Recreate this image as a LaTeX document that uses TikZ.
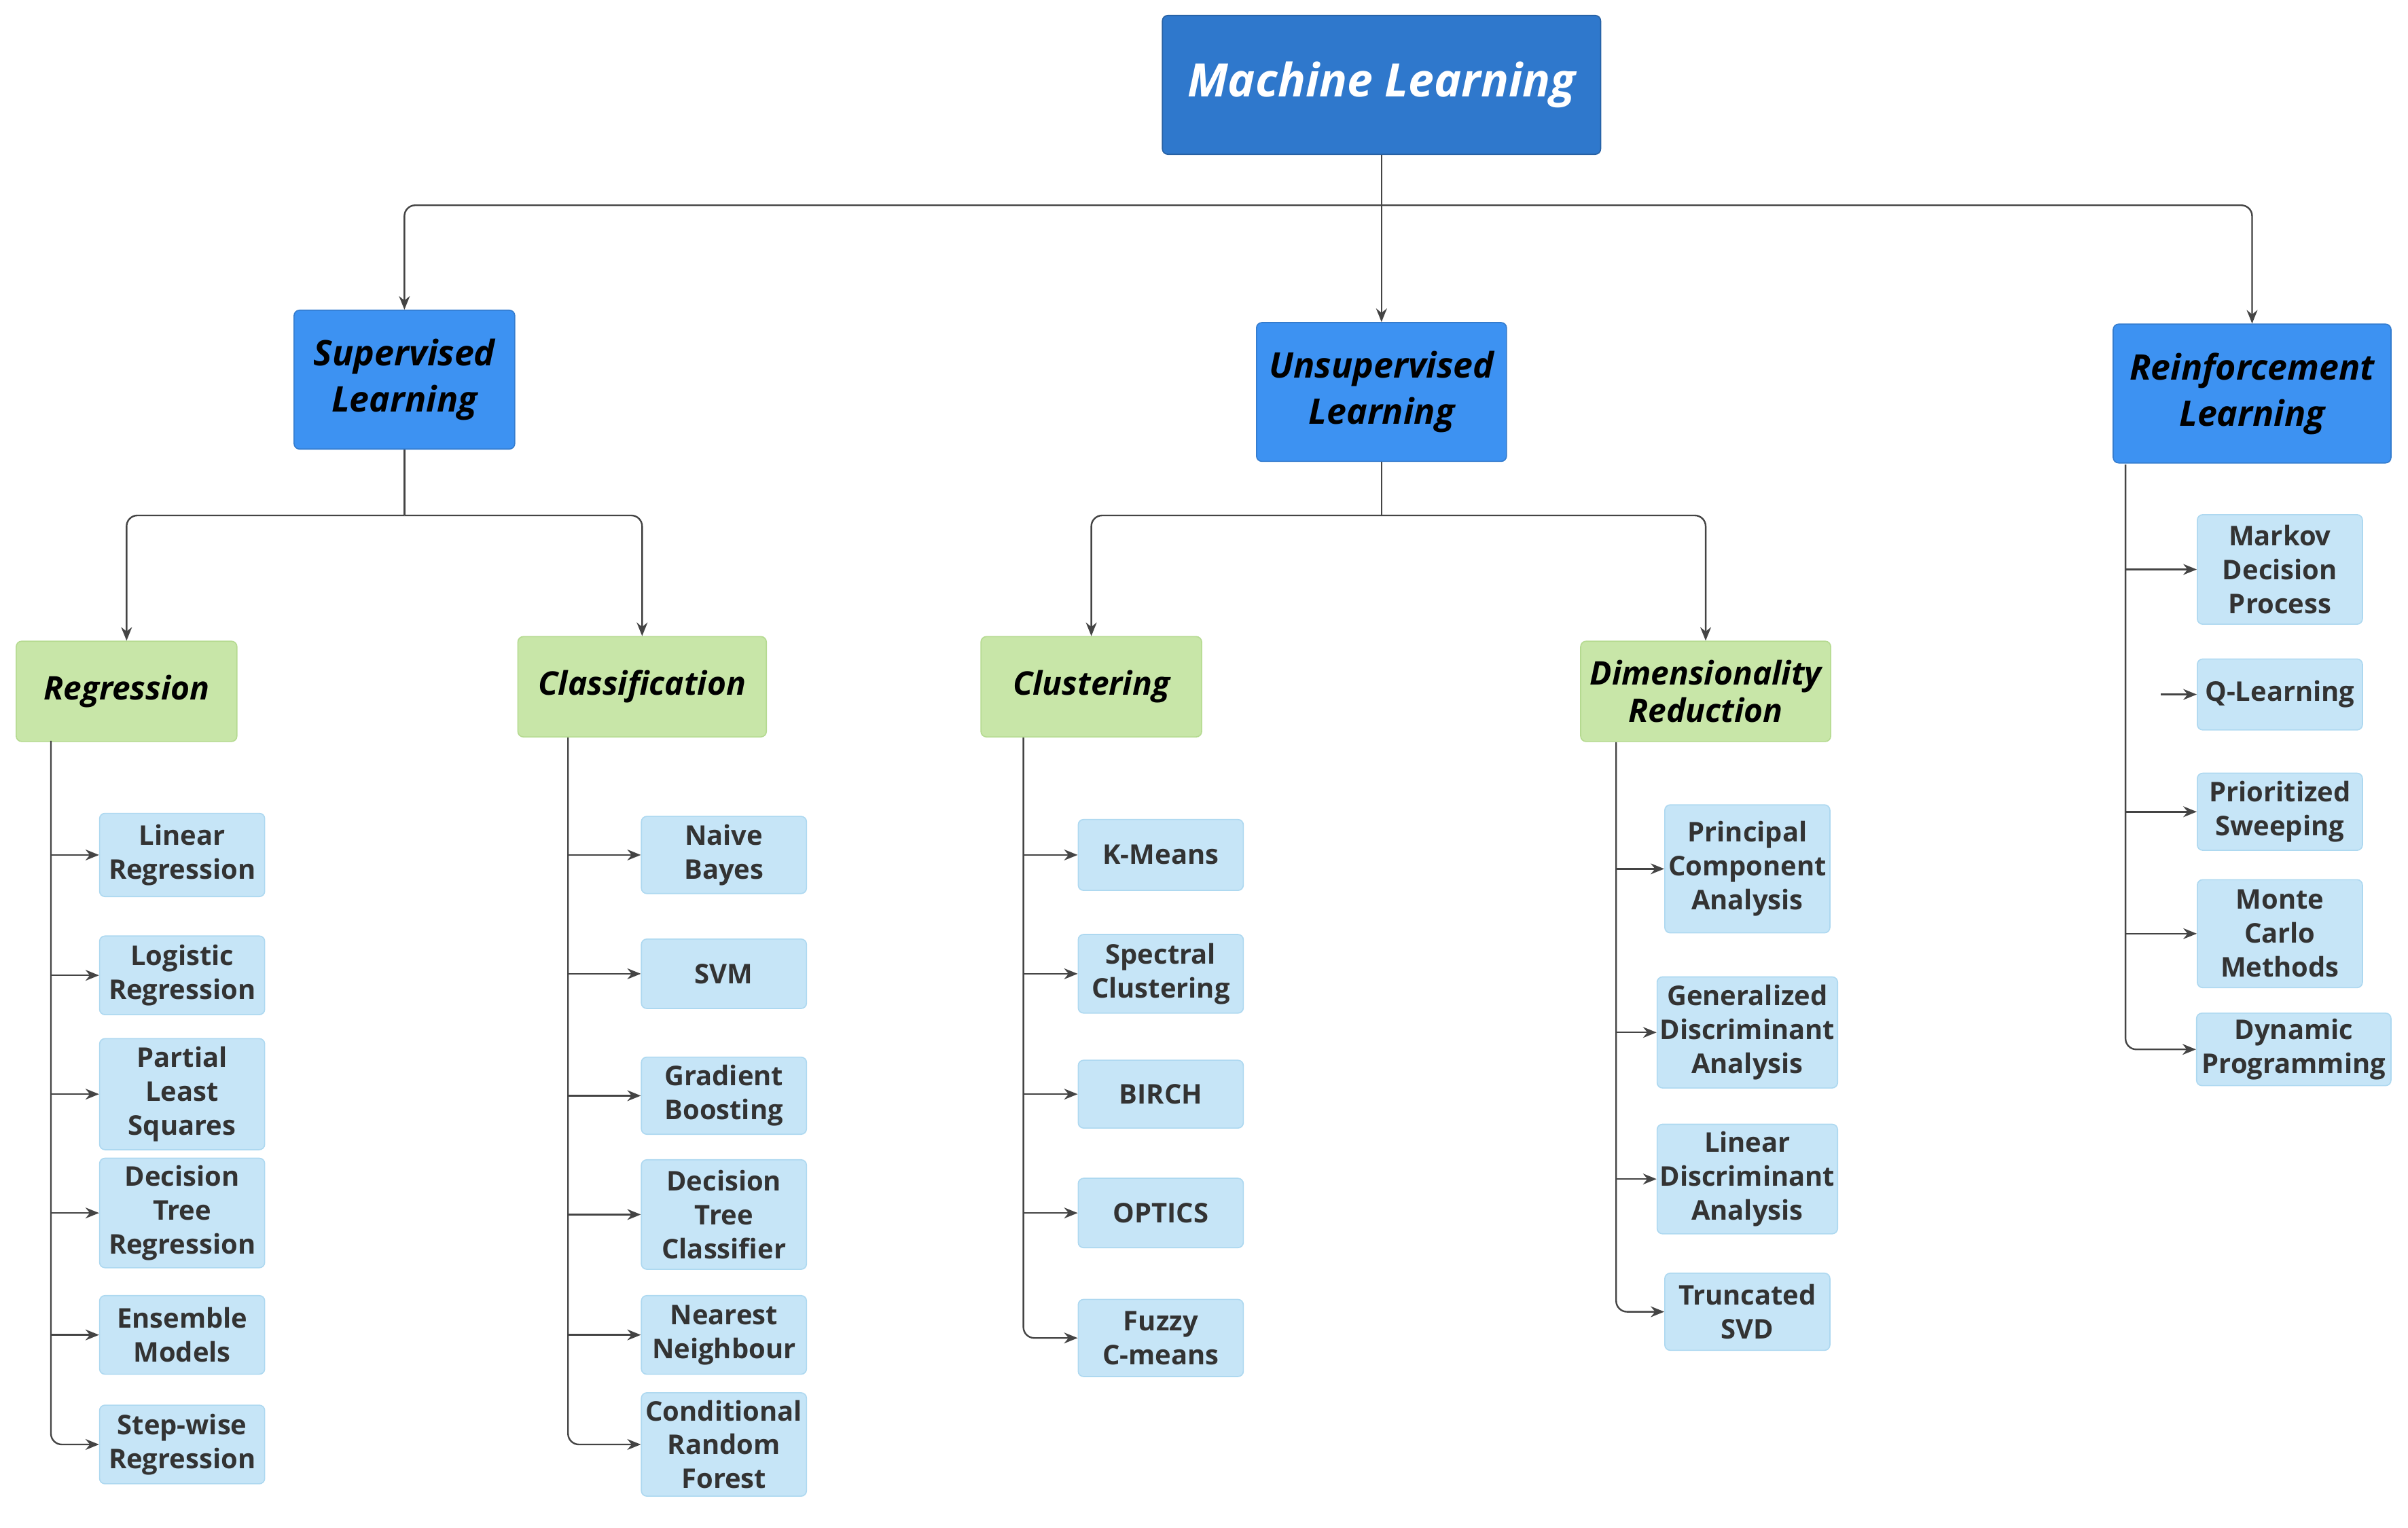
\documentclass[tikz,border=0pt]{standalone}
\usepackage{fontspec}
\setmainfont{Open Sans}
\usetikzlibrary{arrows.meta}
\definecolor{topblue}{HTML}{2F78CC}
\definecolor{midblue}{HTML}{3D92F2}
\definecolor{grn}{HTML}{C8E6A8}
\definecolor{grnline}{HTML}{B5DA90}
\definecolor{leafc}{HTML}{C6E5F7}
\definecolor{leafline}{HTML}{ADD8F0}
\definecolor{wire}{HTML}{444444}
\begin{document}
\begin{tikzpicture}[x=0.02cm,y=-0.02cm,
  box/.style={rounded corners=2pt,align=center,inner sep=1pt,font=\bfseries},
  top/.style={box,fill=topblue,draw=topblue!80!black,text=white,font=\bfseries\itshape\fontsize{17}{20}\selectfont,minimum width=5.68cm,minimum height=1.8cm},
  cat/.style={box,fill=midblue,draw=midblue!85!black,font=\bfseries\itshape\fontsize{13}{17}\selectfont,minimum height=1.8cm},
  sub/.style={box,fill=grn,draw=grnline,font=\bfseries\itshape\fontsize{12}{14}\selectfont,minimum height=1.3cm},
  leaf/.style={box,fill=leafc,draw=leafline,font=\bfseries\fontsize{10}{12.5}\selectfont,text=black!80,minimum width=2.14cm},
  line/.style={draw=wire,semithick,rounded corners=4pt},
  arr/.style={line,-{Stealth[length=5pt,width=4pt]}}]
\useasboundingbox (0,0) rectangle (1560,990);

% top levels
\node[top] (ml) at (895,55) {Machine Learning};
\node[cat,minimum width=2.86cm] (sup) at (262,246) {Supervised\\Learning};
\node[cat,minimum width=3.24cm] (uns) at (895,254) {Unsupervised\\Learning};
\node[cat,minimum width=3.6cm] (rei) at (1459,255) {Reinforcement\\Learning};

\node[sub,minimum width=2.86cm] (reg) at (82,448) {Regression};
\node[sub,minimum width=3.22cm] (cla) at (416,445) {Classification};
\node[sub,minimum width=2.86cm] (clu) at (707,445) {Clustering};
\node[sub,minimum width=3.24cm] (dim) at (1105,448) {Dimensionality\\Reduction};

% connectors between levels
\coordinate (mlj) at (895,133);
\draw[line] (ml.south) -- (mlj);
\draw[arr] (mlj) -| (sup.north);
\draw[arr] (mlj) -| (rei.north);
\draw[arr] (mlj) -- (uns.north);
\coordinate (supj) at (262,334);
\draw[line] (sup.south) -- (supj);
\draw[arr] (supj) -| (reg.north);
\draw[arr] (supj) -| (cla.north);
\coordinate (unsj) at (895,334);
\draw[line] (uns.south) -- (unsj);
\draw[arr] (unsj) -| (clu.north);
\draw[arr] (unsj) -| (dim.north);

% regression
\node[leaf,minimum height=1.08cm] (r1) at (118,554) {Linear\\Regression};
\node[leaf,minimum height=1.02cm] (r2) at (118,632) {Logistic\\Regression};
\node[leaf,minimum height=1.44cm] (r3) at (118,709) {Partial\\Least\\Squares};
\node[leaf,minimum height=1.42cm] (r4) at (118,786) {Decision\\Tree\\Regression};
\node[leaf,minimum height=1.02cm] (r5) at (118,865) {Ensemble\\Models};
\node[leaf,minimum height=1.02cm] (r6) at (118,936) {Step-wise\\Regression};
\coordinate (regt) at (33,480);
\foreach \n in {r1,r2,r3,r4,r5} \draw[arr] (regt |- \n) -- (\n.west);
\draw[arr] (regt) |- (r6.west);

% classification
\node[leaf,minimum height=1.0cm] (c1) at (469,554) {Naive\\Bayes};
\node[leaf,minimum height=0.9cm] (c2) at (469,631) {SVM};
\node[leaf,minimum height=1.0cm] (c3) at (469,710) {Gradient\\Boosting};
\node[leaf,minimum height=1.42cm] (c4) at (469,787) {Decision\\Tree\\Classifier};
\node[leaf,minimum height=1.02cm] (c5) at (469,865) {Nearest\\Neighbour};
\node[leaf,minimum height=1.34cm] (c6) at (469,936) {Conditional\\Random\\Forest};
\coordinate (clat) at (368,478);
\foreach \n in {c1,c2,c3,c4,c5} \draw[arr] (clat |- \n) -- (\n.west);
\draw[arr] (clat) |- (c6.west);

% clustering
\node[leaf,minimum height=0.92cm] (k1) at (752,554) {K-Means};
\node[leaf,minimum height=1.02cm] (k2) at (752,631) {Spectral\\Clustering};
\node[leaf,minimum height=0.88cm] (k3) at (752,709) {BIRCH};
\node[leaf,minimum height=0.9cm] (k4) at (752,786) {OPTICS};
\node[leaf,minimum height=1.0cm] (k5) at (752,867) {Fuzzy\\C-means};
\coordinate (clut) at (663,478);
\foreach \n in {k1,k2,k3,k4} \draw[arr] (clut |- \n) -- (\n.west);
\draw[arr] (clut) |- (k5.west);

% dimensionality reduction
\node[leaf,minimum height=1.66cm] (d1) at (1132,563) {Principal\\Component\\Analysis};
\node[leaf,minimum height=1.44cm] (d2) at (1132,669) {Generalized\\Discriminant\\Analysis};
\node[leaf,minimum height=1.42cm] (d3) at (1132,764) {Linear\\Discriminant\\Analysis};
\node[leaf,minimum height=1.0cm] (d4) at (1132,850) {Truncated\\SVD};
\coordinate (dimt) at (1047,481);
\foreach \n in {d1,d2,d3} \draw[arr] (dimt |- \n) -- (\n.west);
\draw[arr] (dimt) |- (d4.west);

% reinforcement
\node[leaf,minimum height=1.42cm] (q1) at (1477,369) {Markov\\Decision\\Process};
\node[leaf,minimum height=0.92cm] (q2) at (1477,450) {Q-Learning};
\node[leaf,minimum height=1.0cm] (q3) at (1477,526) {Prioritized\\Sweeping};
\node[leaf,minimum height=1.4cm] (q4) at (1477,605) {Monte\\Carlo\\Methods};
\node[leaf,minimum width=2.52cm,minimum height=0.94cm] (q5) at (1486,680) {Dynamic\\Programming};
\coordinate (reit) at (1377,301);
\coordinate (qs) at (1400,450);
\foreach \n in {q1,q3,q4} \draw[arr] (reit |- \n) -- (\n.west);
\draw[arr] (qs) -- (q2.west);
\draw[arr] (reit) |- (q5.west);
\end{tikzpicture}
\end{document}
